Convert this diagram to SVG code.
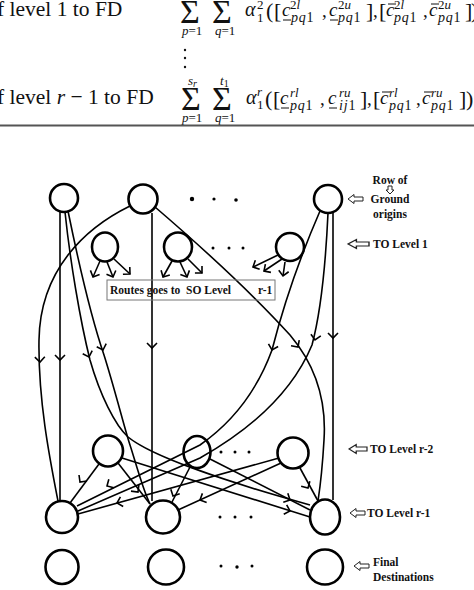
<svg xmlns="http://www.w3.org/2000/svg" xmlns:xlink="http://www.w3.org/1999/xlink" width="474" height="590" viewBox="0 0 474 590">
<style>
.m{font-family:"Liberation Serif","DejaVu Serif",serif;fill:#111}
.mi{font-family:"Liberation Serif","DejaVu Serif",serif;font-style:italic;fill:#111}
.s{font-size:14px;letter-spacing:0.8px}
.p{font-size:13px}
.lb{font-family:"Liberation Serif","Times New Roman",serif;font-weight:bold;font-size:11.5px;fill:#111}
.nd{fill:none;stroke:#000;stroke-width:2.6}
.cn{fill:none;stroke:#000;stroke-width:1.6}
.ah{fill:none;stroke:#000;stroke-width:1.6}
.ha{fill:#fff;stroke:#222;stroke-width:1}
.bar{stroke:#111;stroke-width:1}
</style>
<defs>
<path id="ah" d="M-5,-5 L0,0 L-5,5" class="ah"/>
<marker id="me" viewBox="-7 -7 10 14" markerWidth="10" markerHeight="14" refX="0" refY="0" orient="auto" markerUnits="userSpaceOnUse">
<path d="M-5,-5 L0,0 L-5,5" fill="none" stroke="#000" stroke-width="1.6"/>
</marker>
<path id="hl" d="M0,0 L6,-4.5 L6,-2 L15,-2 L15,2 L6,2 L6,4.5 Z" class="ha"/>
</defs>
<rect width="474" height="590" fill="#fff"/>

<g id="formula">
<text class="m" x="-3" y="16" font-size="21.5">f level 1 to FD</text>
<text class="m" x="180" y="23" font-size="34">Σ</text>
<text class="m" x="212" y="23" font-size="34">Σ</text>
<text class="mi p" x="182" y="35">p<tspan font-style="normal">=1</tspan></text>
<text class="mi p" x="215" y="35">q<tspan font-style="normal">=1</tspan></text>
<text class="mi" x="245" y="16" font-size="20">α</text>
<text class="m p" x="257" y="9">2</text>
<text class="m p" x="257" y="22">1</text>
<text class="m" x="266" y="18" font-size="22">(</text>
<text class="m" x="274" y="18" font-size="22">[</text>
<text class="mi" x="282" y="16" font-size="19">c</text><line class="bar" x1="283" y1="20" x2="291" y2="20"/>
<text class="mi p" x="290" y="9"><tspan font-style="normal">2</tspan>l</text>
<text class="mi s" x="291" y="22">pq<tspan font-style="normal">1</tspan></text>
<text class="m" x="322" y="17" font-size="19">,</text>
<text class="mi" x="329" y="16" font-size="19">c</text><line class="bar" x1="330" y1="20" x2="338" y2="20"/>
<text class="mi p" x="338" y="9"><tspan font-style="normal">2</tspan>u</text>
<text class="mi s" x="338" y="22">pq<tspan font-style="normal">1</tspan></text>
<text class="m" x="366" y="18" font-size="22">]</text>
<text class="m" x="373" y="17" font-size="19">,</text>
<text class="m" x="379" y="18" font-size="22">[</text>
<text class="mi" x="386" y="16" font-size="19">c</text><line class="bar" x1="388" y1="4" x2="396" y2="4"/>
<text class="mi p" x="394" y="9"><tspan font-style="normal">2</tspan>l</text>
<text class="mi s" x="394" y="22">pq<tspan font-style="normal">1</tspan></text>
<text class="m" x="423" y="17" font-size="19">,</text>
<text class="mi" x="429" y="16" font-size="19">c</text><line class="bar" x1="431" y1="4" x2="439" y2="4"/>
<text class="mi p" x="438" y="9"><tspan font-style="normal">2</tspan>u</text>
<text class="mi s" x="438" y="22">pq<tspan font-style="normal">1</tspan></text>
<text class="m" x="465" y="18" font-size="22">]</text>
<text class="m" x="471" y="18" font-size="22">)</text>
<circle cx="185" cy="50" r="1.2" fill="#111"/>
<circle cx="185" cy="58" r="1.2" fill="#111"/>
<circle cx="185" cy="67" r="1.2" fill="#111"/>

<text class="m" x="-3" y="104" font-size="21.5">f level <tspan font-style="italic">r</tspan> − 1 to FD</text>
<text class="mi p" x="188" y="85">s<tspan font-size="10" dy="2">r</tspan></text>
<text class="mi p" x="220" y="85">t<tspan font-size="10" dy="2" font-style="normal">1</tspan></text>
<text class="m" x="181" y="110" font-size="34">Σ</text>
<text class="m" x="212" y="110" font-size="34">Σ</text>
<text class="mi p" x="182" y="122">p<tspan font-style="normal">=1</tspan></text>
<text class="mi p" x="215" y="122">q<tspan font-style="normal">=1</tspan></text>
<text class="mi" x="246" y="104" font-size="20">α</text>
<text class="mi p" x="257" y="96">r</text>
<text class="m p" x="257" y="109">1</text>
<text class="m" x="265" y="106" font-size="22">(</text>
<text class="m" x="273" y="106" font-size="22">[</text>
<text class="mi" x="280" y="104" font-size="19">c</text><line class="bar" x1="281" y1="108" x2="289" y2="108"/>
<text class="mi p" x="290" y="97">rl</text>
<text class="mi s" x="290" y="110">pq<tspan font-style="normal">1</tspan></text>
<text class="m" x="320" y="105" font-size="19">,</text>
<text class="mi" x="328" y="104" font-size="19">c</text><line class="bar" x1="329" y1="108" x2="337" y2="108"/>
<text class="mi p" x="339" y="97">ru</text>
<text class="mi s" x="339" y="110">ij<tspan font-style="normal">1</tspan></text>
<text class="m" x="360" y="106" font-size="22">]</text>
<text class="m" x="367" y="105" font-size="19">,</text>
<text class="m" x="373" y="106" font-size="22">[</text>
<text class="mi" x="380" y="104" font-size="19">c</text><line class="bar" x1="382" y1="92" x2="390" y2="92"/>
<text class="mi p" x="389" y="97">rl</text>
<text class="mi s" x="389" y="110">pq<tspan font-style="normal">1</tspan></text>
<text class="m" x="416" y="105" font-size="19">,</text>
<text class="mi" x="422" y="104" font-size="19">c</text><line class="bar" x1="424" y1="92" x2="432" y2="92"/>
<text class="mi p" x="431" y="97">ru</text>
<text class="mi s" x="431" y="110">pq<tspan font-style="normal">1</tspan></text>
<text class="m" x="459" y="106" font-size="22">]</text>
<text class="m" x="466" y="106" font-size="22">)</text>
<line x1="0" y1="125.5" x2="474" y2="125.5" stroke="#555" stroke-width="2"/>
</g>

<g id="connectors">
<path class="cn" d="M60,212 L60,501"/>
<path class="cn" d="M65,212 C70,260 80,320 90,360 C100,395 115,425 128,437 C150,455 220,480 310,505"/>
<path class="cn" d="M68,211 C78,260 92,320 104,355 C115,390 125,430 130,445 C138,470 143,490 150,504"/>
<path class="cn" d="M130,206 C85,228 40,270 39,340 C38,400 50,460 58,501"/>
<path class="cn" d="M152,213 L152,501"/>
<path class="cn" d="M155,207 Q240,280 290,335 Q328,380 324,440 Q322,475 318,501"/>
<path class="cn" d="M333,213 L333,500"/>
<path class="cn" d="M320,211 Q290,280 272,350 Q250,410 200,445 Q140,475 77,506"/>
<path class="cn" d="M328,213 Q324,300 312,345 Q285,410 200,458 Q150,480 78,511"/>
<path class="cn" d="M99,464 L70,503"/>
<path class="cn" d="M118,463 L150,504"/>
<path class="cn" d="M122,458 L310,517"/>
<path class="cn" d="M190,467 L172,502"/>
<path class="cn" d="M210,459 L310,510"/>
<path class="cn" d="M279,458 L78,514"/>
<path class="cn" d="M281,463 L178,510"/>
<path class="cn" d="M300,468 L318,501"/>

<use xlink:href="#ah" transform="translate(60,360) rotate(90)"/>
<use xlink:href="#ah" transform="translate(40,362) rotate(88)"/>
<use xlink:href="#ah" transform="translate(89,357) rotate(72)"/>
<use xlink:href="#ah" transform="translate(103,350) rotate(72)"/>
<use xlink:href="#ah" transform="translate(152,348) rotate(90)"/>
<use xlink:href="#ah" transform="translate(298,347) rotate(55)"/>
<use xlink:href="#ah" transform="translate(333,338) rotate(90)"/>
<use xlink:href="#ah" transform="translate(272,350) rotate(105)"/>
<use xlink:href="#ah" transform="translate(315,340) rotate(100)"/>
<use xlink:href="#ah" transform="translate(80,482) rotate(127)"/>
<use xlink:href="#ah" transform="translate(138,492) rotate(52)"/>
<use xlink:href="#ah" transform="translate(173,496) rotate(117)"/>
<use xlink:href="#ah" transform="translate(290,511) rotate(17)"/>
<use xlink:href="#ah" transform="translate(290,500) rotate(27)"/>
<use xlink:href="#ah" transform="translate(117,503) rotate(164)"/>
<use xlink:href="#ah" transform="translate(200,500) rotate(155)"/>
<use xlink:href="#ah" transform="translate(308,488) rotate(60)"/>
<use xlink:href="#ah" transform="translate(107,486) rotate(150)"/>

<path class="cn" d="M100,261 L93,277" marker-end="url(#me)"/>
<path class="cn" d="M107,262 L113,277" marker-end="url(#me)"/>
<path class="cn" d="M114,259 L130,274" marker-end="url(#me)"/>
<path class="cn" d="M172,261 L163,277" marker-end="url(#me)"/>
<path class="cn" d="M180,262 L187,277" marker-end="url(#me)"/>
<path class="cn" d="M188,259 L202,273" marker-end="url(#me)"/>
<path class="cn" d="M278,255 L253,267" marker-end="url(#me)"/>
<path class="cn" d="M282,259 L264,271" marker-end="url(#me)"/>
<path class="cn" d="M285,262 L283,276" marker-end="url(#me)"/>
</g>

<g id="box">
<rect x="107" y="280" width="168" height="20" fill="none" stroke="#777" stroke-width="1"/>
<text class="lb" x="110" y="294" font-size="12" xml:space="preserve">Routes goes to  SO Level</text>
<text class="lb" x="258" y="294" font-size="12">r-1</text>
</g>

<g id="G1"><circle class="nd" cx="64" cy="198" r="14"/></g>
<g id="G2"><circle class="nd" cx="143" cy="199" r="14.5"/></g>
<g id="G3"><circle class="nd" cx="328" cy="199" r="14"/></g>
<g id="dotsG" fill="#000"><circle cx="192" cy="199" r="2.2"/><circle cx="214" cy="199" r="1.6"/><circle cx="236" cy="200" r="1.8"/></g>

<g id="T1a"><ellipse class="nd" cx="105" cy="247" rx="13" ry="14.5"/></g>
<g id="T1b"><ellipse class="nd" cx="178" cy="247" rx="14" ry="14.5"/></g>
<g id="T1c"><ellipse class="nd" cx="290" cy="247" rx="14" ry="14"/></g>
<g id="dotsT1" fill="#000"><circle cx="213" cy="248" r="1.5"/><circle cx="229" cy="248" r="1.5"/><circle cx="243" cy="248" r="1.5"/></g>

<g id="M1"><ellipse class="nd" cx="108" cy="451" rx="15" ry="15.5"/></g>
<g id="M2"><ellipse class="nd" cx="197" cy="452" rx="13.5" ry="16"/></g>
<g id="M3"><ellipse class="nd" cx="293" cy="453" rx="15.5" ry="15.5"/></g>
<g id="dotsM" fill="#000"><circle cx="221" cy="452" r="1.5"/><circle cx="235" cy="452" r="1.5"/><circle cx="249" cy="452" r="1.5"/></g>

<g id="R1"><ellipse class="nd" cx="62" cy="517" rx="16" ry="16"/></g>
<g id="R2"><ellipse class="nd" cx="163" cy="517" rx="17" ry="16.5"/></g>
<g id="R3"><ellipse class="nd" cx="325" cy="517" rx="15" ry="17.5"/></g>
<g id="dotsR" fill="#000"><circle cx="220" cy="517" r="1.5"/><circle cx="235" cy="517" r="1.5"/><circle cx="251" cy="517" r="1.5"/></g>

<g id="F1"><ellipse class="nd" cx="62" cy="567" rx="16.5" ry="17"/></g>
<g id="F2"><ellipse class="nd" cx="166" cy="567" rx="18" ry="17.5"/></g>
<g id="F3"><ellipse class="nd" cx="325" cy="567" rx="18" ry="17.5"/></g>
<g id="dotsF" fill="#000"><circle cx="221" cy="566" r="1.5"/><circle cx="237" cy="567" r="1.7"/><circle cx="252" cy="566" r="1.5"/></g>

<g id="labels">
<text class="lb" x="390" y="184" text-anchor="middle">Row of</text>
<path d="M390,194 L386,190 L388,190 L388,186 L392,186 L392,190 L394,190 Z" class="ha"/>
<text class="lb" x="390" y="203" text-anchor="middle">Ground</text>
<text class="lb" x="390" y="218" text-anchor="middle">origins</text>
<use xlink:href="#hl" transform="translate(348,199)"/>
<use xlink:href="#hl" transform="translate(348,244) scale(1.4,1)"/>
<text class="lb" x="373" y="248">TO Level 1</text>
<use xlink:href="#hl" transform="translate(349,449) scale(1.2,1)"/>
<text class="lb" x="370" y="453">TO Level r-2</text>
<use xlink:href="#hl" transform="translate(350,513)"/>
<text class="lb" x="367" y="517">TO Level r-1</text>
<use xlink:href="#hl" transform="translate(354,566)"/>
<text class="lb" x="373" y="566">Final</text>
<text class="lb" x="373" y="581">Destinations</text>
</g>
</svg>
